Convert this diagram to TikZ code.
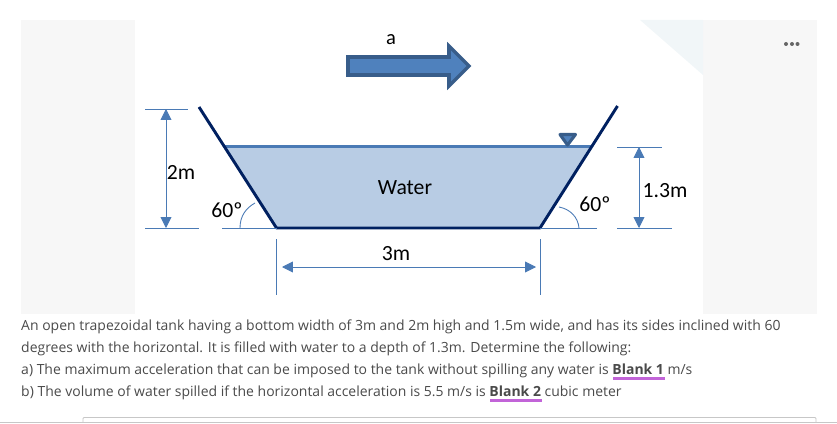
\documentclass[tikz,border=0pt]{standalone}
\usepackage{fontspec}
\usepackage{xcolor}
\setmainfont{Open Sans}
\newfontfamily\labelfont{Carlito}
\usetikzlibrary{arrows.meta,positioning}
\definecolor{panelgray}{HTML}{F7F7F7}
\definecolor{paleblue}{HTML}{F1F6F8}
\definecolor{waterblue}{HTML}{B8CCE4}
\definecolor{tanknavy}{HTML}{002060}
\definecolor{dimblue}{HTML}{4A7AB5}
\definecolor{arrowfill}{HTML}{4F81BD}
\definecolor{arrowedge}{HTML}{385D8A}
\definecolor{bodygray}{HTML}{4A4A4A}
\definecolor{blankpink}{HTML}{C264D8}
\tikzset{
    dimline/.style={draw=dimblue, line width=0.75pt},
    dimarrow/.style={dimline, {Triangle[length=11*0.85pt,width=11*0.85pt]}-{Triangle[length=11*0.85pt,width=11*0.85pt]}},
    figlabel/.style={font=\labelfont\fontsize{18.5}{20}\selectfont, text=black, inner sep=0pt},
    bodyline/.style={font=\fontsize{11.93}{14}\selectfont, text=bodygray, inner sep=0pt, anchor=base west},
    blankline/.style={draw=blankpink, line width=1.9pt},
}
\begin{document}
\begin{tikzpicture}[>=Stealth, x=0.03cm, y=-0.03cm]
        \useasboundingbox (0,0) rectangle (837,424);

        % Side panels
        \fill[panelgray] (21,20) rectangle (135,314);
        \fill[panelgray] (703,20) rectangle (817,314);
        \fill[paleblue] (640,20) -- (703,20) -- (703,75) -- cycle;
        \foreach \dotx in {786,792,797.5}
            \fill[black!60] (\dotx,44) circle (2);

        % Tank corners
        \coordinate (wallLeft) at (199,107);
        \coordinate (baseLeft) at (276.5,228);
        \coordinate (baseRight) at (540,228);
        \coordinate (wallRight) at (617.5,106);
        \coordinate (waterLeft) at (224,146.5);
        \coordinate (waterRight) at (592,146.5);

        % Water
        \fill[waterblue] (waterLeft) -- (baseLeft) -- (baseRight) -- (waterRight) -- cycle;
        \draw[draw=dimblue, line width=1.8pt] (waterLeft) -- (waterRight);
        \draw[draw=tanknavy, line width=2.5pt, line join=round] (wallLeft) -- (baseLeft) -- (baseRight) -- (wallRight);

        % Level mark
        \draw[draw=arrowedge, fill=arrowfill, line width=2.6pt, line join=round] (560,134.5) -- (575.5,134.5) -- (567.5,145) -- cycle;

        % Acceleration arrow
        \draw[draw=arrowedge, fill=arrowfill, line width=3pt, line join=miter]
            (348,57) -- (449,57) -- (449,46) -- (469,66) -- (449,86) -- (449,75) -- (348,75) -- cycle;
        \node[figlabel, font=\labelfont\fontsize{17.5}{20}\selectfont] (accelLabel) at (391,39.5) {a};

        % Height of the tank
        \coordinate (hTopA) at (145,109);
        \coordinate (hTopB) at (188,109);
        \coordinate (hBotA) at (145,228);
        \coordinate (hBotB) at (199,228);
        \coordinate (hTop) at (166,109);
        \coordinate (hBot) at (166,228);
        \draw[dimline] (hTopA) -- (hTopB);
        \draw[dimline] (hBotA) -- (hBotB);
        \draw[dimarrow] (hTop) -- (hBot);
        \node[figlabel] (heightLabel) at (181,172) {2m};

        % Depth of the water
        \coordinate (dTopA) at (617,147);
        \coordinate (dTopB) at (662,147);
        \coordinate (dBotA) at (617,228);
        \coordinate (dBotB) at (672,228);
        \coordinate (dTop) at (639,147);
        \coordinate (dBot) at (639,228);
        \draw[dimline] (dTopA) -- (dTopB);
        \draw[dimline] (dBotA) -- (dBotB);
        \draw[dimarrow] (dTop) -- (dBot);
        \node[figlabel] (depthLabel) at (665,190.5) {1.3m};

        % Bottom width
        \coordinate (wLeftA) at (276,239);
        \coordinate (wLeftB) at (276,295);
        \coordinate (wRightA) at (540,239);
        \coordinate (wRightB) at (540,295);
        \coordinate (wLeft) at (282,267);
        \coordinate (wRight) at (536,267);
        \draw[dimline] (wLeftA) -- (wLeftB);
        \draw[dimline] (wRightA) -- (wRightB);
        \draw[dimarrow] (wLeft) -- (wRight);
        \node[figlabel] (widthLabel) at (396,254) {3m};

        % Angles
        \coordinate (angLeft) at (222,228);
        \coordinate (angRight) at (597,228);
        \draw[dimline] (angLeft) -- (baseLeft);
        \draw[dimline] (baseRight) -- (angRight);
        \draw[dimline] (240,228) .. controls (240,216) and (246,208) .. (255,203);
        \draw[dimline] (579,228) .. controls (578,217) and (570,209) .. (559,207);
        \node[figlabel] (angleLeftLabel) at (227,210.5) {60º};
        \node[figlabel] (angleRightLabel) at (595,204.5) {60º};

        \node[figlabel] (waterLabel) at (405,187.5) {Water};

        % Question text
        \node[bodyline] (lineOne) at (21,330) {An open trapezoidal tank having a bottom width of 3m and 2m high and 1.5m wide, and has its sides inclined with 60};
        \node[bodyline] (lineTwo) at (21,352) {degrees with the horizontal. It is filled with water to a depth of 1.3m. Determine the following:};
        \node[bodyline] (lineThree) at (21,374) {a) The maximum acceleration that can be imposed to the tank without spilling any water is {\bfseries Blank 1} m/s};
        \node[bodyline] (lineFour) at (21,396) {b) The volume of water spilled if the horizontal acceleration is 5.5 m/s is {\bfseries Blank 2} cubic meter};
        \draw[blankline] (613,378.5) -- (665,378.5);
        \draw[blankline] (490,400.5) -- (542,400.5);

        % Answer box edge
        \draw[black!22, line width=0.8pt] (83,422) -- (83,418.5) -- (84,417.5) -- (815,417.5) -- (816,418.5) -- (816,422);
        \draw[black!22, line width=0.8pt] (0,422.5) -- (837,422.5);
    \end{tikzpicture}
\end{document}
